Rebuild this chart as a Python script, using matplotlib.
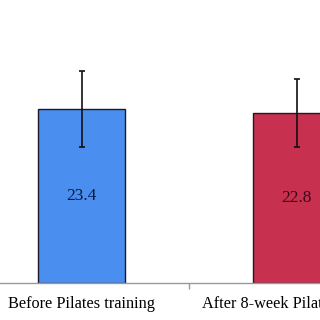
import matplotlib.pyplot as plt
import numpy as np

# Before / after Pilates training
groups = ['Before Pilates training', 'After 8-week Pilates training']
means = [23.4, 22.8]
errors = [5.1, 4.6]
colors = ['#4a8ef0', '#c8304f']
label_colors = ['#0b1a40', '#3a0a14']

plt.rcParams['font.family'] = ['Liberation Serif', 'DejaVu Serif']

fig = plt.figure(figsize=(3.2, 3.2), dpi=100)
ax = fig.add_axes([0, 0.1156, 1, 0.8844])

x = np.arange(len(groups))
ax.bar(x, means, width=0.405, color=colors, edgecolor='#1a1a2a', linewidth=1.0,
       yerr=errors, capsize=2.3, error_kw={'elinewidth': 1.2, 'capthick': 1.2, 'ecolor': '#111111'})

for i, v in enumerate(means):
    ax.text(x[i], v / 2, f'{v}', ha='center', va='center', fontsize=12.5, color=label_colors[i])

ax.set_xlim(-0.379, 1.109)
ax.set_ylim(0, 38.0)
ax.set_xticks(x)
ax.set_xticklabels(groups, fontsize=11.7)
ax.tick_params(axis='x', which='major', length=0, pad=9)
ax.set_xticks([0.5], minor=True)
ax.tick_params(axis='x', which='minor', length=4, color='#999999', width=1)
ax.set_yticks([])
for s in ['top', 'right', 'left']:
    ax.spines[s].set_visible(False)
ax.spines['bottom'].set_color('#999999')
ax.spines['bottom'].set_linewidth(1.0)

fig.savefig('out.png', dpi=100)
